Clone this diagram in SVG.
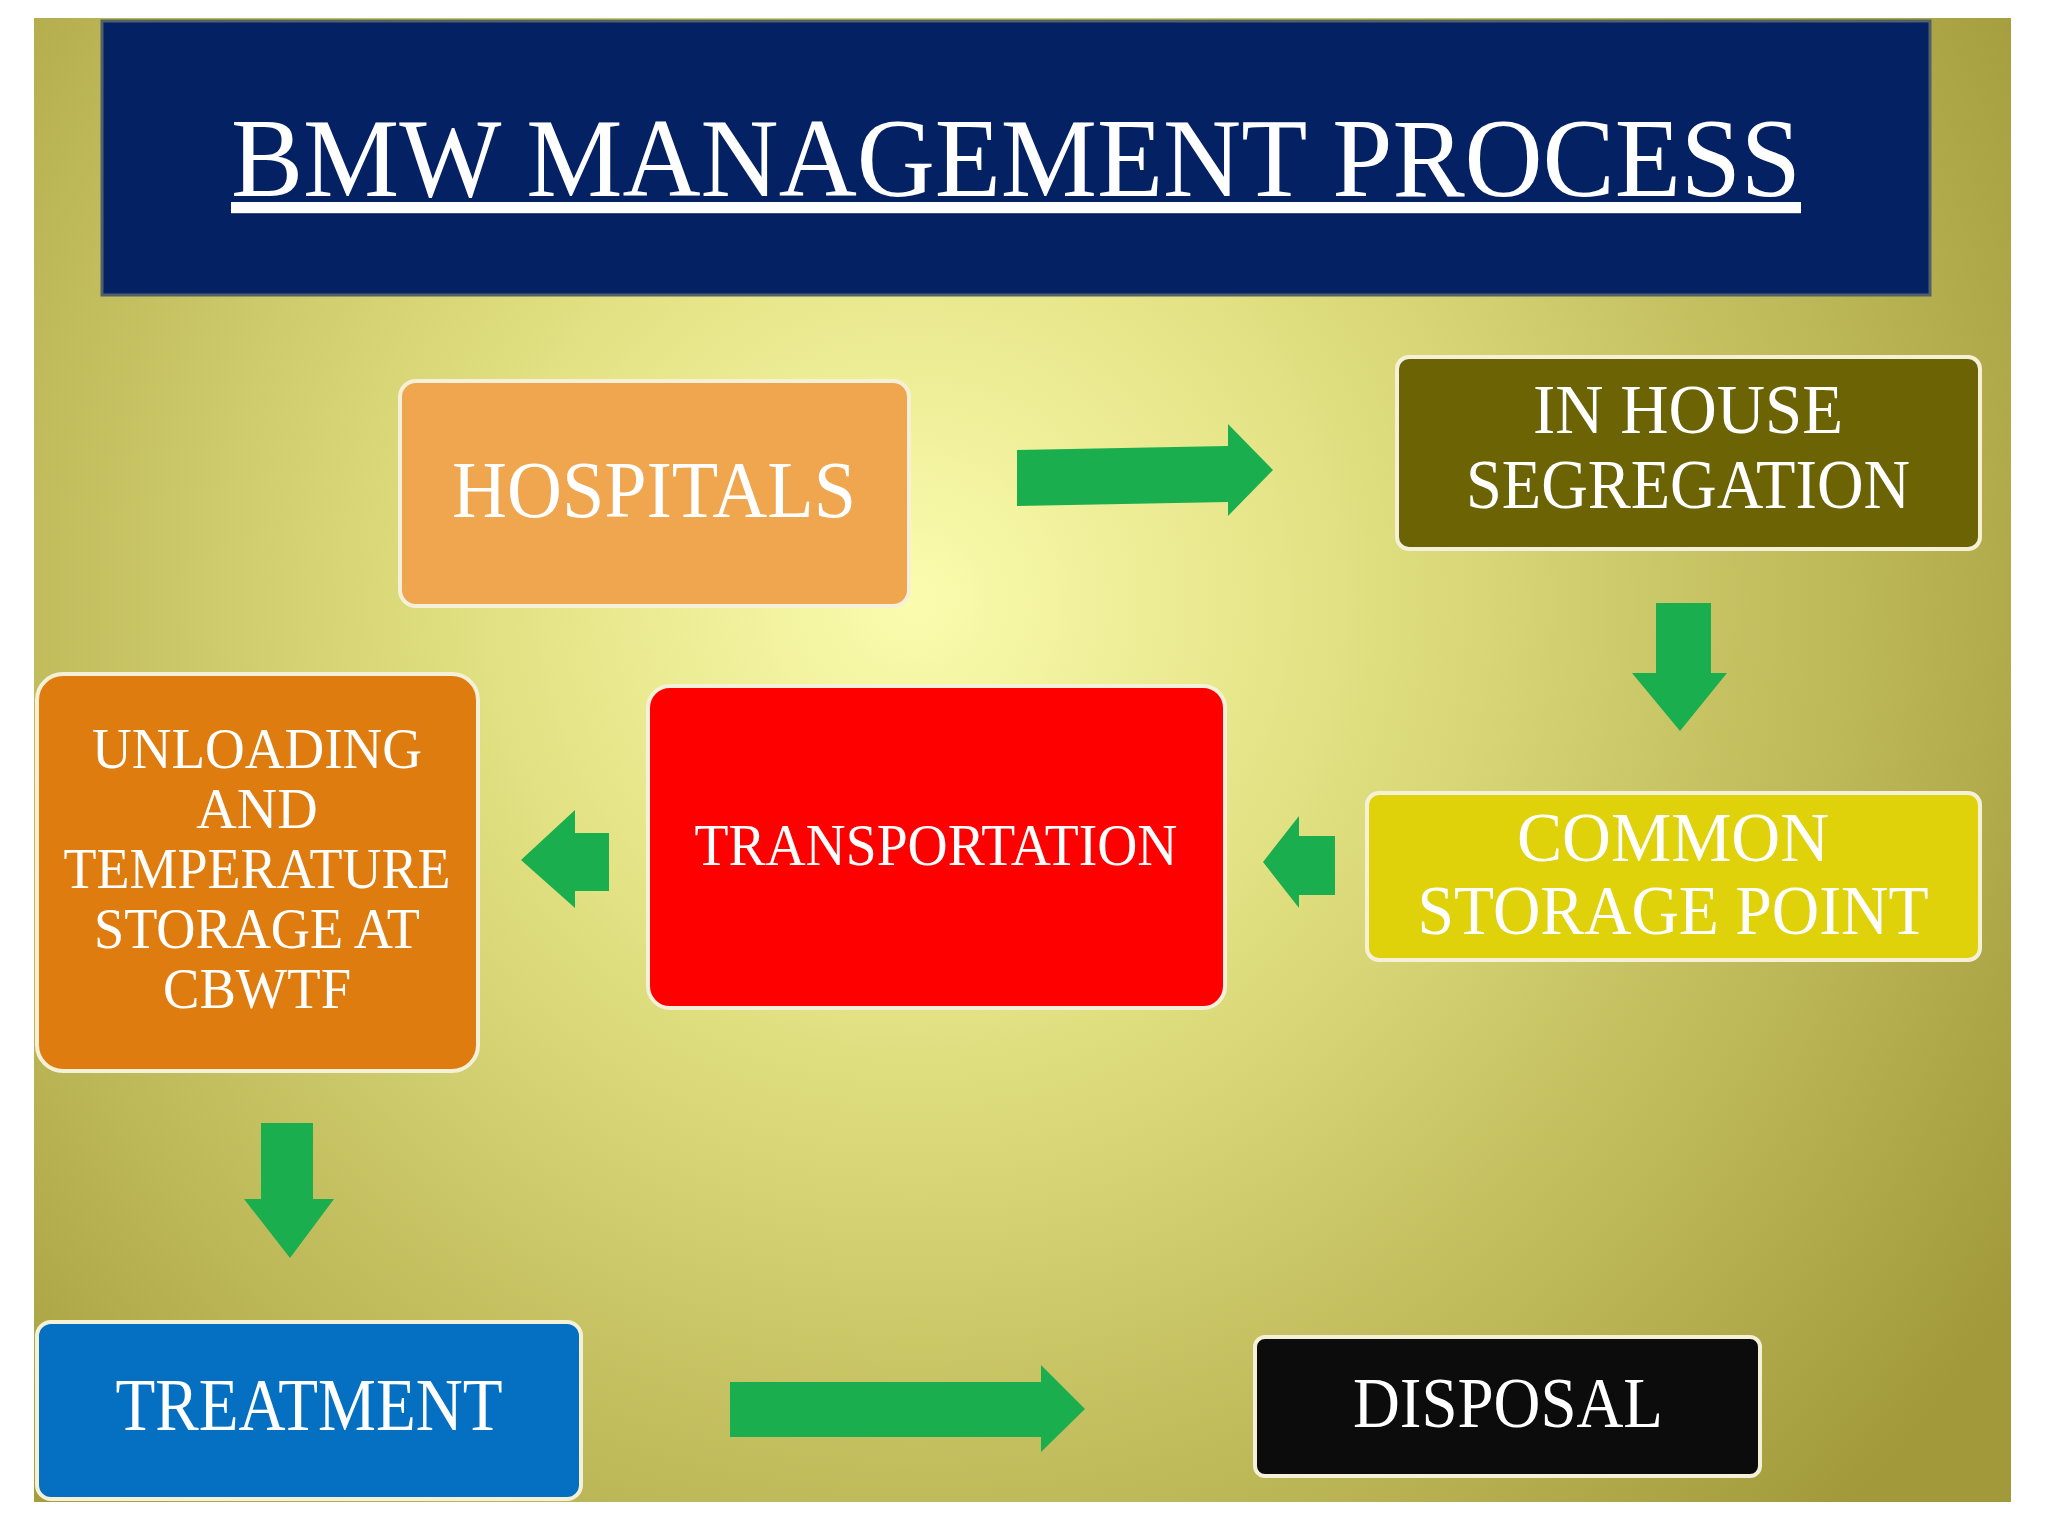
<svg xmlns="http://www.w3.org/2000/svg" width="2048" height="1536" viewBox="0 0 2048 1536">
<defs>
<radialGradient id="bg" cx="914" cy="600" r="1300" gradientUnits="userSpaceOnUse">
<stop offset="0" stop-color="#fbfcae"/>
<stop offset="0.35" stop-color="#e0df80"/>
<stop offset="1" stop-color="#a29a3a"/>
</radialGradient>
<style>
.box{stroke:#f4f1d8;stroke-width:4}
.t{font-family:"Liberation Serif",serif;fill:#fff;text-anchor:middle}
.ar{fill:#1aae4e}
</style>
</defs>
<rect width="2048" height="1536" fill="#fff"/>
<rect x="34" y="18" width="1977" height="1484" fill="url(#bg)"/>
<g id="title">
<rect x="102" y="21" width="1828" height="274" fill="#042163" stroke="#52606a" stroke-width="3"/>
<text class="t" x="1016" y="196" font-size="112" textLength="1570" lengthAdjust="spacingAndGlyphs" text-decoration="underline">BMW MANAGEMENT PROCESS</text>
</g>
<g id="hospitals"><rect class="box" x="400" y="381" width="509" height="225" rx="16" fill="#f0a64e"/>
<text class="t" x="654" y="517" font-size="80" textLength="404" lengthAdjust="spacingAndGlyphs">HOSPITALS</text></g>
<g id="segregation"><rect class="box" x="1397" y="357" width="583" height="192" rx="12" fill="#6c6305"/>
<text class="t" x="1688" y="433" font-size="70" textLength="310" lengthAdjust="spacingAndGlyphs">IN HOUSE</text><text class="t" x="1688" y="508" font-size="70" textLength="444" lengthAdjust="spacingAndGlyphs">SEGREGATION</text></g>
<g id="storage"><rect class="box" x="1367" y="793" width="613" height="167" rx="12" fill="#e0d20a"/>
<text class="t" x="1673" y="861" font-size="70" textLength="312" lengthAdjust="spacingAndGlyphs">COMMON</text><text class="t" x="1673" y="934" font-size="70" textLength="511" lengthAdjust="spacingAndGlyphs">STORAGE POINT</text></g>
<g id="transport"><rect class="box" x="648" y="686" width="577" height="322" rx="22" fill="#ff0000"/>
<text class="t" x="936" y="865" font-size="60" textLength="483" lengthAdjust="spacingAndGlyphs">TRANSPORTATION</text></g>
<g id="unloading"><rect class="box" x="37" y="674" width="441" height="397" rx="26" fill="#df7c10"/>
<text class="t" x="257" y="768" font-size="56" textLength="330" lengthAdjust="spacingAndGlyphs">UNLOADING</text><text class="t" x="257" y="828" font-size="56">AND</text><text class="t" x="257" y="888" font-size="56" textLength="387" lengthAdjust="spacingAndGlyphs">TEMPERATURE</text><text class="t" x="257" y="948" font-size="56" textLength="326" lengthAdjust="spacingAndGlyphs">STORAGE AT</text><text class="t" x="257" y="1008" font-size="56" textLength="188" lengthAdjust="spacingAndGlyphs">CBWTF</text></g>
<g id="treatment"><rect class="box" x="37" y="1322" width="544" height="177" rx="14" fill="#0570c2"/>
<text class="t" x="309" y="1430" font-size="74" textLength="387" lengthAdjust="spacingAndGlyphs">TREATMENT</text></g>
<g id="disposal"><rect class="box" x="1255" y="1337" width="505" height="139" rx="10" fill="#0c0c0c"/>
<text class="t" x="1508" y="1427" font-size="72" textLength="310" lengthAdjust="spacingAndGlyphs">DISPOSAL</text></g>
<g id="connectors">
<polygon class="ar" points="1017,450 1228,446 1228,424 1273,470 1228,516 1228,502 1017,506"/>
<polygon class="ar" points="1656,603 1711,603 1711,673 1727,673 1680,731 1632,673 1656,673"/>
<polygon class="ar" points="1335,836 1299,836 1299,816 1263,862 1299,908 1299,895 1335,895"/>
<polygon class="ar" points="609,833 575,833 575,810 521,860 575,908 575,891 609,891"/>
<polygon class="ar" points="261,1123 313,1123 313,1199 334,1199 290,1258 244,1199 261,1199"/>
<polygon class="ar" points="730,1382 1041,1382 1041,1365 1085,1409 1041,1452 1041,1437 730,1437"/>
</g>
</svg>
